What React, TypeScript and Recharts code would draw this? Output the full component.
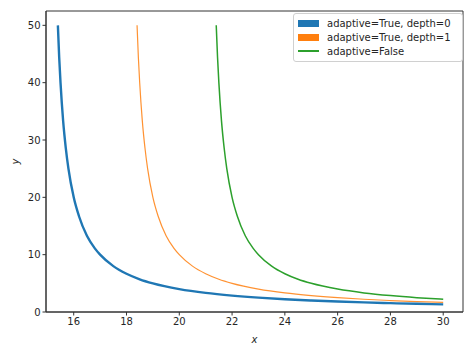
import { LineChart, Line, XAxis, YAxis, ReferenceArea } from 'recharts';

// x / y samples, one list per curve
const depth0X = [15.4, 15.45, 15.5, 15.6, 15.7, 15.8, 16, 16.2, 16.5, 16.8, 17, 17.5, 18, 18.5, 19, 20, 21, 22, 23, 24, 25, 26, 27, 28, 29, 30];
const depth0Y = [50, 44.4, 40, 33.3, 28.6, 25, 20, 16.7, 13.3, 11.1, 10, 8, 6.67, 5.71, 5, 4, 3.33, 2.86, 2.5, 2.22, 2, 1.82, 1.67, 1.54, 1.43, 1.33];

const depth1X = [18.4, 18.45, 18.5, 18.6, 18.7, 18.8, 19, 19.2, 19.5, 19.8, 20, 20.5, 21, 21.5, 22, 23, 24, 25, 26, 27, 28, 29, 30];
const depth1Y = [50, 44.4, 40, 33.3, 28.6, 25, 20, 16.7, 13.3, 11.1, 10, 8, 6.67, 5.71, 5, 4, 3.33, 2.86, 2.5, 2.22, 2, 1.82, 1.67];

const plainX = [21.4, 21.45, 21.5, 21.6, 21.7, 21.8, 22, 22.2, 22.5, 22.8, 23, 23.5, 24, 24.5, 25, 26, 27, 28, 29, 30];
const plainY = [50, 44.4, 40, 33.3, 28.6, 25, 20, 16.7, 13.3, 11.1, 10, 8, 6.67, 5.71, 5, 4, 3.33, 2.86, 2.5, 2.22];

const xTicks = [16, 18, 20, 22, 24, 26, 28, 30];
const yTicks = [0, 10, 20, 30, 40, 50];

const legendItems = [
  { label: 'adaptive=True, depth=0', color: '#1f77b4', patch: true },
  { label: 'adaptive=True, depth=1', color: '#ff7f0e', patch: true },
  { label: 'adaptive=False', color: '#2ca02c', patch: false },
];

const zip = (xs: number[], ys: number[]) => xs.map((x, i) => ({ x, y: ys[i] }));

const font = 'DejaVu Sans, sans-serif';
const tickStyle = { fill: '#262626', fontSize: 10, fontFamily: font };

function MplLegend() {
  return (
    <div
      style={{
        position: 'absolute',
        left: 293,
        top: 13,
        width: 170,
        border: '1px solid #d0d0d0',
        borderRadius: 3,
        background: 'rgba(255,255,255,0.85)',
        padding: '3px 4px 3px 4px',
        fontFamily: font,
        fontSize: 10,
        color: '#262626',
        boxSizing: 'border-box',
        whiteSpace: 'nowrap',
      }}
    >
      {legendItems.map((it) => (
        <div key={it.label} style={{ display: 'flex', alignItems: 'center', height: 13.7 }}>
          <span
            style={{
              display: 'inline-block',
              width: 21,
              height: it.patch ? 7 : 1.5,
              background: it.color,
              marginRight: 8,
              flex: 'none',
            }}
          />
          <span>{it.label}</span>
        </div>
      ))}
    </div>
  );
}

export default function App() {
  return (
    <div style={{ position: 'absolute', left: 0, top: 0, width: 474, height: 355, background: '#fff' }}>
      <LineChart width={474} height={355} margin={{ top: 11, right: 11, bottom: 0, left: 0 }}>
        <XAxis
          type="number"
          dataKey="x"
          domain={[14.95, 30.75]}
          ticks={xTicks}
          allowDataOverflow
          height={43}
          tick={tickStyle}
          tickSize={3.5}
          tickLine={{ stroke: '#333' }}
          axisLine={{ stroke: '#333' }}
          label={{ value: 'x', position: 'insideBottom', offset: 12, style: { ...tickStyle, fontStyle: 'italic' } }}
        />
        <YAxis
          type="number"
          dataKey="y"
          domain={[0, 52.5]}
          ticks={yTicks}
          allowDataOverflow
          width={46}
          tick={tickStyle}
          tickSize={3.5}
          tickLine={{ stroke: '#333' }}
          axisLine={{ stroke: '#333' }}
          label={{
            value: 'y',
            angle: -90,
            position: 'insideLeft',
            offset: 15,
            style: { ...tickStyle, fontStyle: 'italic', textAnchor: 'middle' },
          }}
        />
        <ReferenceArea x1={14.95} x2={30.75} y1={0} y2={52.5} fill="none" stroke="#333" strokeWidth={1} />
        <Line
          data={zip(plainX, plainY)}
          dataKey="y"
          type="monotone"
          stroke="#2ca02c"
          strokeWidth={1.5}
          dot={false}
          isAnimationActive={false}
        />
        <Line
          data={zip(depth1X, depth1Y)}
          dataKey="y"
          type="monotone"
          stroke="#ff7f0e"
          strokeOpacity={0.85}
          strokeWidth={1.2}
          dot={false}
          isAnimationActive={false}
        />
        <Line
          data={zip(depth0X, depth0Y)}
          dataKey="y"
          type="monotone"
          stroke="#1f77b4"
          strokeWidth={2.4}
          dot={false}
          isAnimationActive={false}
        />
      </LineChart>
      <MplLegend />
    </div>
  );
}
